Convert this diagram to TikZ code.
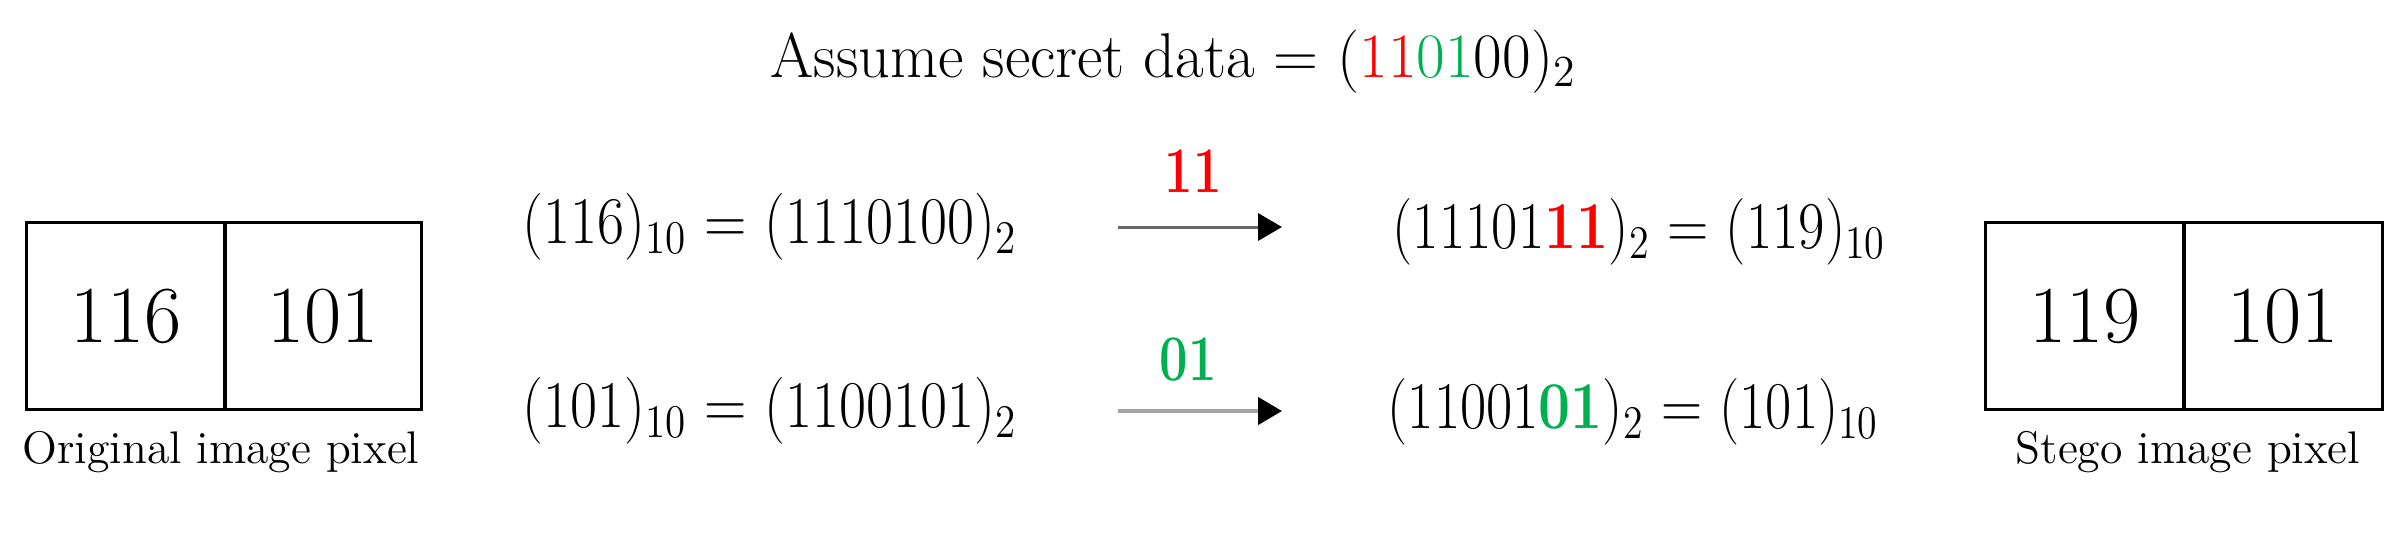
\documentclass[tikz,border=0pt]{standalone}
\usetikzlibrary{arrows.meta}
\usepackage{graphicx}
\definecolor{sred}{RGB}{255,0,0}
\definecolor{sgreen}{RGB}{0,176,80}
\definecolor{shaftA}{RGB}{105,105,105}
\definecolor{shaftB}{RGB}{165,165,165}
\newcommand{\hsqz}[2]{\resizebox{#1}{\height}{#2}}
\begin{document}
\begin{tikzpicture}[x=0.01cm,y=-0.01cm,
  cell/.style={draw=black, line width=0.85pt, minimum width=1.98cm, minimum height=1.86cm, inner sep=0pt, font=\fontsize{23}{27}\selectfont},
  pixlab/.style={anchor=base, font=\fontsize{13}{16}\selectfont, inner sep=0pt},
  eq/.style={anchor=base west, inner sep=0pt, font=\fontsize{19}{23}\selectfont},
  bitlab/.style={anchor=base, inner sep=0pt, font=\fontsize{18.5}{22}\selectfont\bfseries},
  conn/.style={-{Triangle[length=6.8pt,width=7.7pt,color=black]}}]
\useasboundingbox (0,0) rectangle (2401,535);

% title
\node[anchor=base west, inner sep=0pt, font=\fontsize{18}{22}\selectfont] (title) at (770,77)
  {\hsqz{8.05cm}{Assume secret data = (\textcolor{sred}{11}\textcolor{sgreen}{01}00)\textsubscript{2}}};

% original pixel
\node[cell] (o1) at (126,316) {116};
\node[cell, minimum width=1.96cm] (o2) at (323,316) {101};
\node[pixlab] (olab) at (221,463) {Original image pixel};

% stego pixel
\node[cell] (s1) at (2085,316) {119};
\node[cell] (s2) at (2283,316) {101};
\node[pixlab] (slab) at (2188,463) {Stego image pixel};

% equations left
\node[eq] (e1) at (522,243) {\hsqz{4.94cm}{(116)\textsubscript{10} = (1110100)\textsubscript{2}}};
\node[eq] (e2) at (522,427) {\hsqz{4.94cm}{(101)\textsubscript{10} = (1100101)\textsubscript{2}}};

% equations right
\node[eq] (r1) at (1392,248) {\hsqz{4.93cm}{(11101\textcolor{sred}{\textbf{11}})\textsubscript{2} = (119)\textsubscript{10}}};
\node[eq] (r2) at (1387,428) {\hsqz{4.91cm}{(11001\textcolor{sgreen}{\textbf{01}})\textsubscript{2} = (101)\textsubscript{10}}};

% arrows
\coordinate (a1s) at (1118,227);
\coordinate (a1e) at (1282,227);
\coordinate (a2s) at (1118,411);
\coordinate (a2e) at (1282,411);
\draw[conn, draw=shaftA, line width=0.85pt] (a1s) -- (a1e);
\draw[conn, draw=shaftB, line width=1.1pt] (a2s) -- (a2e);
\node[bitlab, text=sred] (b1) at (1193,192) {\hsqz{0.57cm}{11}};
\node[bitlab, text=sgreen] (b2) at (1188,380) {\hsqz{0.57cm}{01}};
\end{tikzpicture}
\end{document}
